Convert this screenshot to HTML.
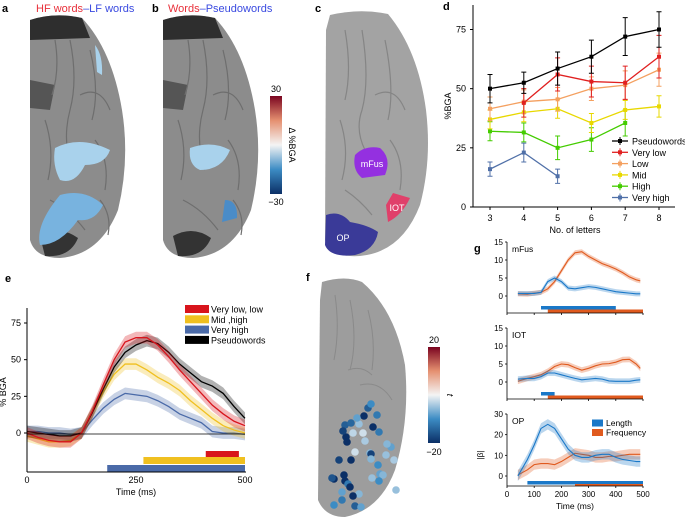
<!DOCTYPE html>
<html><head><meta charset="utf-8"><style>
body{margin:0;background:#fff;width:685px;height:519px;overflow:hidden;font-family:"Liberation Sans",sans-serif}
svg{position:absolute;left:0;top:0}
text{font-family:"Liberation Sans",sans-serif}
</style></head><body>
<svg id="fig" width="685" height="519" viewBox="0 0 685 519">
<defs>
<linearGradient id="cb" x1="0" y1="1" x2="0" y2="0">
<stop offset="0" stop-color="#0b2f66"/><stop offset="0.25" stop-color="#3c8cc4"/><stop offset="0.5" stop-color="#f4f4f4"/><stop offset="0.75" stop-color="#e59070"/><stop offset="1" stop-color="#7a0420"/></linearGradient>
</defs>
<g font-weight="bold" font-size="11">
<text x="2" y="12">a</text><text x="152" y="12">b</text><text x="315" y="12">c</text><text x="443" y="10">d</text><text x="5" y="282">e</text><text x="306" y="281">f</text><text x="474" y="252" font-family="Liberation Serif">g</text></g>
<text x="36" y="12" font-size="11"><tspan fill="#e8303a">HF words</tspan><tspan fill="#3a4ae0">–LF words</tspan></text>
<text x="168" y="12" font-size="11"><tspan fill="#e8303a">Words</tspan><tspan fill="#3a4ae0">–Pseudowords</tspan></text>
<g>
<path d="M30,20 Q55,12 82,18 Q112,50 122,110 Q130,160 118,210 Q100,255 60,258 Q35,258 30,240 Z" fill="#8c8c8c"/>
<path d="M30,20 Q55,12 82,18 L90,38 L30,40 Z" fill="#2e2e2e"/>
<path d="M30,80 L55,85 L50,110 L30,108 Z" fill="#555"/>
<path d="M40,236 Q60,225 78,238 Q70,258 45,256 Z" fill="#333"/>
<g stroke="#6e6e6e" stroke-width="1.2" fill="none">
<path d="M55,40 Q60,70 52,95 M70,40 Q78,80 70,110 Q62,140 72,170 M90,50 Q100,90 92,120 M80,95 Q100,85 110,110 M45,120 Q55,150 48,180 M95,140 Q110,160 105,190 M50,200 Q70,210 85,230 M100,200 Q112,215 108,235"/></g>
<path d="M55,148 Q80,135 110,150 Q105,165 85,165 Q75,185 60,180 Q52,165 55,148Z" fill="#a9d2ec"/>
<path d="M60,195 Q85,188 103,205 Q95,222 78,220 Q60,245 40,245 Q35,225 60,195Z" fill="#78b3df"/>
<path d="M95,45 Q103,55 102,75 L97,72 Z" fill="#a9d2ec"/>
</g>
<g>
<path d="M163,20 Q188,12 215,18 Q245,50 255,110 Q263,160 251,210 Q233,255 193,258 Q168,258 163,240 Z" fill="#8c8c8c"/>
<path d="M163,20 Q188,12 215,18 L223,38 L163,40 Z" fill="#2e2e2e"/>
<path d="M163,80 L188,85 L183,110 L163,108 Z" fill="#555"/>
<path d="M173,236 Q193,225 211,238 Q203,258 178,256 Z" fill="#333"/>
<g stroke="#6e6e6e" stroke-width="1.2" fill="none">
<path d="M188,40 Q193,70 185,95 M203,40 Q211,80 203,110 Q195,140 205,170 M223,50 Q233,90 225,120 M213,95 Q233,85 243,110 M178,120 Q188,150 181,180 M228,140 Q243,160 238,190 M183,200 Q203,210 218,230 M233,200 Q245,215 241,235"/></g>
<path d="M190,148 Q212,140 230,150 Q222,170 200,170 Q188,165 190,148Z" fill="#a9d2ec"/>
<path d="M225,200 Q238,200 237,218 L222,222 Z" fill="#4a8cc8"/>
</g>
<g>
<rect x="270" y="96" width="12" height="98" fill="url(#cb)"/>
<text x="276" y="92" font-size="9" text-anchor="middle">30</text>
<text x="276" y="205" font-size="9" text-anchor="middle">−30</text>
<text transform="translate(289,145) rotate(90)" font-size="9" text-anchor="middle">Δ %BGA</text></g>
<g>
<path d="M330,15 Q360,8 388,14 Q418,50 426,110 Q432,160 420,205 Q402,252 360,256 Q330,258 325,240 L326,30 Z" fill="#a3a3a3"/>
<g stroke="#858585" stroke-width="1.2" fill="none">
<path d="M345,30 Q352,70 345,100 M362,30 Q370,80 362,110 Q355,130 365,150 M385,40 Q395,90 388,120 M375,95 Q395,85 405,110 M340,120 Q350,150 342,180 M390,140 Q405,160 400,190 M345,190 Q360,200 372,215"/></g>
<path d="M355,155 Q365,145 380,148 Q392,158 385,175 L362,178 Q352,170 355,155Z" fill="#9430e0"/>
<text x="372" y="167" font-size="9" fill="#fff" text-anchor="middle">mFus</text>
<path d="M393,193 L410,198 Q402,215 388,222 L386,205Z" fill="#e0406a"/>
<text x="397" y="211" font-size="9" fill="#fff" text-anchor="middle">IOT</text>
<path d="M326,215 Q340,210 350,222 Q368,225 378,232 Q375,250 355,255 Q330,258 325,245Z" fill="#3a3a98"/>
<text x="343" y="241" font-size="9" fill="#fff" text-anchor="middle">OP</text></g>
<g>
<path d="M322,282 Q345,275 362,282 Q395,310 405,365 Q410,420 395,470 Q380,510 345,517 Q325,517 318,500 L320,300Z" fill="#9d9d9d"/>
<g stroke="#8a8a8a" stroke-width="1" fill="none">
<path d="M335,295 Q340,330 334,360 M350,300 Q358,340 350,370 M368,310 Q376,340 372,370 M348,370 Q362,365 372,375 M360,385 Q380,380 392,400"/></g>
</g>
<g id="dots"></g>
<g>
<rect x="428" y="347" width="12" height="96" fill="url(#cb)"/>
<text x="434" y="343" font-size="9" text-anchor="middle">20</text>
<text x="434" y="455" font-size="9" text-anchor="middle">−20</text>
<text transform="translate(447,395) rotate(90)" font-size="9" font-style="italic" text-anchor="middle">t</text></g>
<g id="pd"></g>
<g id="pe"></g>
<g id="pg"></g>
</svg>
<script>
const NS="http://www.w3.org/2000/svg";
function mk(p,t,a,txt){const e=document.createElementNS(NS,t);for(const k in a)e.setAttribute(k,a[k]);if(txt!==undefined)e.textContent=txt;p.appendChild(e);return e;}
const letters=[3,4,5,6,7,8];
const dNames=["Pseudowords","Very low","Low","Mid","High","Very high"];
const dColors=["#000","#e02020","#f4a060","#e8d800","#44cc00","#5070a8"];
const pseudoVals=[50,52.5,58.5,63.5,72,75];
const pseudoErr=[6,4.5,7,7,8,7.5];
const veryLowVals=[null,44,56,53,52.5,63.5];
const veryLowErr=[0,6,7,6.5,7,9];
const lowVals=[41.5,44.5,45.5,50,51.5,58];
const lowErr=[5,5,5,5,6,7];
const midVals=[37,40,41.5,35.5,41,42.5];
const midErr=[4,4,4,4,4,4.5];
const highVals=[32,31.5,25,28.5,35.5,null];
const highErr=[4,4,5,5,5.5,0];
const veryHighVals=[16,23,13,null,null,null];
const veryHighErr=[3,4,3,0,0,0];
const dTicks=[0,25,50,75];
(function(){
const g=document.getElementById('pd');
const X=l=>490+(l-3)*33.8, Y=v=>207-v*177.5/75;
mk(g,'line',{x1:473,y1:5,x2:473,y2:207,stroke:'#000','stroke-width':1});
mk(g,'line',{x1:473,y1:207,x2:675,y2:207,stroke:'#000','stroke-width':1});
dTicks.forEach(t=>{mk(g,'line',{x1:470,x2:473,y1:Y(t),y2:Y(t),stroke:'#000'});mk(g,'text',{x:466,y:Y(t)+3,'font-size':9,'text-anchor':'end'},t);});
letters.forEach(l=>{mk(g,'line',{x1:X(l),x2:X(l),y1:207,y2:210,stroke:'#000'});mk(g,'text',{x:X(l),y:221,'font-size':9,'text-anchor':'middle'},l);});
mk(g,'text',{x:575,y:233,'font-size':9,'text-anchor':'middle'},'No. of letters');
mk(g,'text',{transform:'translate(451,106) rotate(-90)','font-size':9,'text-anchor':'middle'},'%BGA');
const series=[[pseudoVals,pseudoErr],[veryLowVals,veryLowErr],[lowVals,lowErr],[midVals,midErr],[highVals,highErr],[veryHighVals,veryHighErr]];
for(let s=series.length-1;s>=0;s--){const [v,e]=series[s];const c=dColors[s];let d='';
 v.forEach((y,i)=>{if(y===null)return;d+=(d?'L':'M')+X(letters[i])+','+Y(y);
  const el=mk(g,'path',{d:`M${X(letters[i])},${Y(y-e[i])}V${Y(y+e[i])}M${X(letters[i])-2.5},${Y(y-e[i])}h5M${X(letters[i])-2.5},${Y(y+e[i])}h5`,stroke:c,'stroke-width':1,fill:'none'});
  
  
  const m=mk(g,'rect',{x:X(letters[i])-2,y:Y(y)-2,width:4,height:4,fill:c});
  
  });
 const p=mk(g,'path',{d,stroke:c,'stroke-width':1.3,fill:'none'});
 
 }
dNames.forEach((n,i)=>{const y=141+i*11.3;
 const le=mk(g,'g',{});
 
 
 mk(le,'line',{x1:612,x2:628,y1:y,y2:y,stroke:dColors[i],'stroke-width':1.3});
 mk(le,'path',{d:`M620,${y-4}V${y+4}`,stroke:dColors[i]});
 mk(le,'rect',{x:618,y:y-2,width:4,height:4,fill:dColors[i]});
 mk(le,'text',{x:632,y:y+3.5,'font-size':9},n);});
})();
const eTimes=[0,25,50,75,100,125,150,175,200,225,250,275,300,325,350,375,400,425,450,475,500];
const eRed=[0,-3,-5,-6,-6,0,15,33,50,62,65,65,60,52,43,35,27,19,13,8,5];
const eBlack=[1,0,-1,-2,-2,0,14,30,45,55,60,63,61,55,47,41,35,32,27,18,10];
const eYellow=[-2,-4,-6,-6,-5,0,14,28,40,47,47,43,38,34,29,22,16,10,5,2,0];
const eBlue=[1,1,0,0,-1,0,9,17,23,27,26,25,22,18,13,10,7,1,0,0,-1];
const eLegend=["Very low, low","Mid ,high","Very high","Pseudowords"];
const eSigStart=[410,267,184];
const eSigEnd=[486,500,500];
const eTicksY=[0,25,50,75];
const eTicksX=[0,250,500];
(function(){
const g=document.getElementById('pe');
const X=t=>27+t*0.436, Y=v=>433-v*110/75;
const cols=["#d8141c","#f0c020","#4a6aa8","#000"];
function band(vals,c,w,name){let up='',dn='';vals.forEach((v,i)=>{up+=(i?'L':'M')+X(eTimes[i])+','+Y(v+w);});
 for(let i=vals.length-1;i>=0;i--)dn+='L'+X(eTimes[i])+','+Y(vals[i]-w);
 const b=mk(g,'path',{d:up+dn+'Z',fill:c,opacity:0.3});
 
 
 const l=mk(g,'path',{d:vals.map((v,i)=>(i?'L':'M')+X(eTimes[i])+','+Y(v)).join(''),stroke:c,'stroke-width':1.3,fill:'none'});
 
 }
band(eBlue,cols[2],4,'very-high');band(eYellow,cols[1],4,'mid-high');band(eBlack,'#000',4,'pseudowords');band(eRed,cols[0],4,'very-low-low');
mk(g,'line',{x1:27,x2:245,y1:Y(0)+1,y2:Y(0)+1,stroke:'#000','stroke-width':0.8});
[2,1,0].forEach((k,j)=>{const r=mk(g,'rect',{x:X(eSigStart[k]),y:451+ (k==0?0:k==1?6:14),width:X(eSigEnd[k])-X(eSigStart[k]),height:k==0?6:7,fill:cols[k]});
 
 });
mk(g,'line',{x1:27,y1:308,x2:27,y2:472,stroke:'#000'});
mk(g,'line',{x1:27,y1:472,x2:246,y2:472,stroke:'#000'});
eTicksY.forEach(t=>{mk(g,'line',{x1:24,x2:27,y1:Y(t),y2:Y(t),stroke:'#000'});mk(g,'text',{x:21,y:Y(t)+3,'font-size':9,'text-anchor':'end'},t);});
eTicksX.forEach(t=>{mk(g,'text',{x:X(t),y:483,'font-size':9,'text-anchor':'middle'},t);});
mk(g,'text',{x:136,y:495,'font-size':9,'text-anchor':'middle'},'Time (ms)');
mk(g,'text',{transform:'translate(6,392) rotate(-90)','font-size':9,'text-anchor':'middle'},'% BGA');
eLegend.forEach((n,i)=>{const y=309+i*10.3;
 const le=mk(g,'g',{});
 
 
 mk(le,'rect',{x:185,y:y-4,width:24,height:8,fill:cols[i]});
 mk(le,'text',{x:211,y:y+3.5,'font-size':9},n);});
})();
const gTimes=[40,75,100,125,150,175,200,225,250,275,300,325,350,375,400,425,450,475,490];
const mFusLength=[0.7,0.7,0.7,1,4,5,4,2.2,2,2.3,2.6,2.4,2,1.6,1.2,1,0.8,0.6,0.6];
const mFusFreq=[0.6,0.5,0.8,1,2,4,7,10,12,12.3,11,10,9,8.3,7.5,6.5,5.3,4.5,4.2];
const iotLength=[0.8,1,1,1.5,2.5,2.5,2,1.5,1,0.6,0.8,1,0.8,0.3,0.2,0.2,0.2,0.5,0.6];
const iotFreq=[0.2,1,1.5,2,3,4.3,5,4.8,4,3.3,3.8,4.5,5,5.1,5.5,6.2,6.3,5,3.8];
const opLength=[0,8,15,23,25,23,18,13,10,9,9,10,10.5,10.5,9,8,7.5,7,7];
const opFreq=[0.5,3,5.5,6,6,5.5,7,9,11,10.5,10,9,9,9.5,9.5,10,10.5,10.5,10.5];
const gRegions=["mFus","IOT","OP"];
const lengthSigStart=[125,125,75];
const lengthSigEnd=[400,175,500];
const freqSigStart=[150,150,250];
const freqSigEnd=[500,500,500];
const gTicksX=[0,100,200,300,400,500];
(function(){
const g=document.getElementById('pg');
const X=t=>507+t*0.272;
const BLUE="#1a78c8",ORG="#e05a1e";
const cfg=[{zero:296,top:242,max:15,ticks:[0,5,10,15],axis:313,data:[mFusLength,mFusFreq],bw:0.7},
 {zero:382,top:328,max:15,ticks:[0,5,10,15],axis:399,data:[iotLength,iotFreq],bw:0.8},
 {zero:476,top:414,max:30,ticks:[0,10,20,30],axis:486,data:[opLength,opFreq],bw:2.5}];
cfg.forEach((c,ri)=>{const Y=v=>c.zero-v*(c.zero-c.top)/c.max;
 const sub=mk(g,'g',{});
 
 
 [[c.data[1],ORG,'frequency'],[c.data[0],BLUE,'length']].forEach(([vals,col,nm])=>{
  let up='',dn='';vals.forEach((v,i)=>{up+=(i?'L':'M')+X(gTimes[i])+','+Y(v+c.bw);});
  for(let i=vals.length-1;i>=0;i--)dn+='L'+X(gTimes[i])+','+Y(vals[i]-c.bw);
  const b=mk(sub,'path',{d:up+dn+'Z',fill:col,opacity:0.3});
  
  
  const l=mk(sub,'path',{d:vals.map((v,i)=>(i?'L':'M')+X(gTimes[i])+','+Y(v)).join(''),stroke:col,'stroke-width':1.1,fill:'none'});
  
  });
 const a=c.axis;
 const rb=mk(sub,'rect',{x:X(lengthSigStart[ri]),y:a-(ri==2?5:7),width:X(lengthSigEnd[ri])-X(lengthSigStart[ri]),height:3.5,fill:BLUE});
 
 
 const ro=mk(sub,'rect',{x:X(freqSigStart[ri]),y:a-(ri==2?2:3.5),width:X(freqSigEnd[ri])-X(freqSigStart[ri]),height:ri==2?2:3.5,fill:ORG});
 
 
 mk(sub,'line',{x1:507,y1:c.top,x2:507,y2:a,stroke:'#000','stroke-width':0.8});
 mk(sub,'line',{x1:507,y1:a,x2:643,y2:a,stroke:'#000','stroke-width':0.8});
 c.ticks.forEach(t=>{mk(sub,'line',{x1:505,x2:507,y1:Y(t),y2:Y(t),stroke:'#000','stroke-width':0.8});mk(sub,'text',{x:503,y:Y(t)+3,'font-size':8,'text-anchor':'end'},t);});
 gTicksX.forEach(t=>mk(sub,'line',{x1:X(t),x2:X(t),y1:a,y2:a+2,stroke:'#000','stroke-width':0.8}));
 mk(sub,'text',{x:512,y:c.top+10,'font-size':8.5},gRegions[ri]);});
gTicksX.forEach(t=>mk(g,'text',{x:X(t),y:497,'font-size':8,'text-anchor':'middle'},t));
mk(g,'text',{x:575,y:509,'font-size':8.5,'text-anchor':'middle'},'Time (ms)');
mk(g,'text',{transform:'translate(483,455) rotate(-90)','font-size':8,'text-anchor':'middle'},'|β|');
[["Length",BLUE],["Frequency",ORG]].forEach(([n,c],i)=>{const y=423+i*9.5;
 const le=mk(g,'g',{});
 
 
 mk(le,'rect',{x:592,y:y-3.5,width:11,height:7,fill:c});
 mk(le,'text',{x:606,y:y+3,'font-size':8.5},n);});
})();
const dotX=[368,371,364,359,377,345,351,357,346,343,353,373,379,363,391,387,370,347,365,355,339,351,344,371,386,394,371,378,380,334,345,348,350,332,359,353,334,342,342,355,361,383,379,396,372];
const dotY=[408,404,416,424,415,425,423,418,437,431,433,427,432,433,447,444,453,442,441,452,460,460,475,454,455,460,459,465,474,479,481,484,487,478,494,496,505,492,500,506,507,475,481,490,478];
const dotT=[-15,-10,-20,-5,-12,-15,-14,-8,-20,-18,-3,-20,-12,-2,-8,-6,-6,-20,-4,-2,-18,-20,-20,-18,-5,-4,-6,-10,-8,-20,-20,-12,-20,-16,-6,-20,-10,-8,-12,-15,-8,-6,-10,-5,-5];
(function(){
const g=document.getElementById('dots');
function col(t){const f=Math.min(1,-t/20);const a=[244,244,244],b=[11,47,102],m=[60,140,196];
 let c;if(f<0.5){const k=f/0.5;c=a.map((v,i)=>v+(m[i]-v)*k);}else{const k=(f-0.5)/0.5;c=m.map((v,i)=>v+(b[i]-v)*k);}
 return 'rgb('+c.map(Math.round).join(',')+')';}
dotX.forEach((x,i)=>{const c=mk(g,'circle',{cx:x,cy:dotY[i],r:3.8,fill:col(dotT[i])});
 
 });
})();
</script>
</body></html>
